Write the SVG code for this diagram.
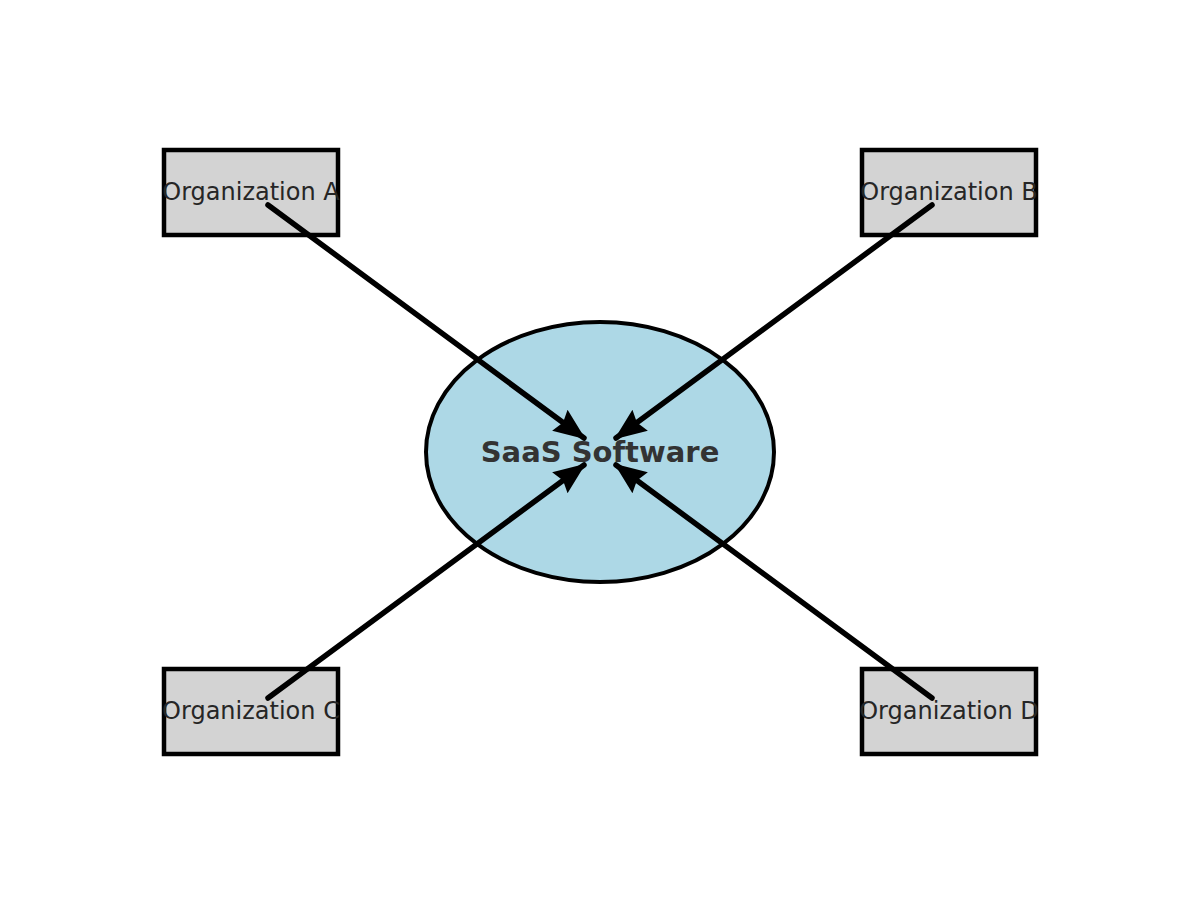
<svg xmlns="http://www.w3.org/2000/svg" width="1200" height="904" viewBox="0 0 1200 904">
<style>
.box{fill:#d3d3d3;stroke:#000;stroke-width:4.5}
.lbl{font-family:"DejaVu Sans",sans-serif;font-size:24px;fill:#262626;text-anchor:middle;dominant-baseline:central}
.c{stroke:#000;stroke-width:5.5;stroke-linecap:round;fill:none}
</style>
<defs>
<marker id="ah" markerUnits="userSpaceOnUse" markerWidth="34" markerHeight="28" refX="30" refY="13" orient="auto" viewBox="0 0 34 28">
<path d="M0,0 L32,13 L0,26 L4,13 z" fill="#000"/>
</marker>
</defs>
<rect width="1200" height="904" fill="#fff"/>
<g id="saas">
<ellipse cx="600" cy="452" rx="174" ry="130" fill="#add8e6" stroke="#000" stroke-width="4"/>
<text x="600" y="452" class="lbl" style="font-weight:bold;font-size:29px;fill:#333">SaaS Software</text>
</g>
<g id="orgA"><rect class="box" x="164" y="150" width="174" height="85"/><text class="lbl" x="251" y="192">Organization A</text></g>
<g id="orgB"><rect class="box" x="862" y="150" width="174" height="85"/><text class="lbl" x="949" y="192">Organization B</text></g>
<g id="orgC"><rect class="box" x="164" y="669" width="174" height="85"/><text class="lbl" x="251" y="711">Organization C</text></g>
<g id="orgD"><rect class="box" x="862" y="669" width="174" height="85"/><text class="lbl" x="949" y="711">Organization D</text></g>
<g id="connectors">
<line class="c" x1="268" y1="205" x2="584" y2="438" marker-end="url(#ah)"/>
<line class="c" x1="932" y1="205" x2="616" y2="438" marker-end="url(#ah)"/>
<line class="c" x1="268" y1="698" x2="584" y2="465" marker-end="url(#ah)"/>
<line class="c" x1="932" y1="698" x2="616" y2="465" marker-end="url(#ah)"/>
</g>
</svg>
